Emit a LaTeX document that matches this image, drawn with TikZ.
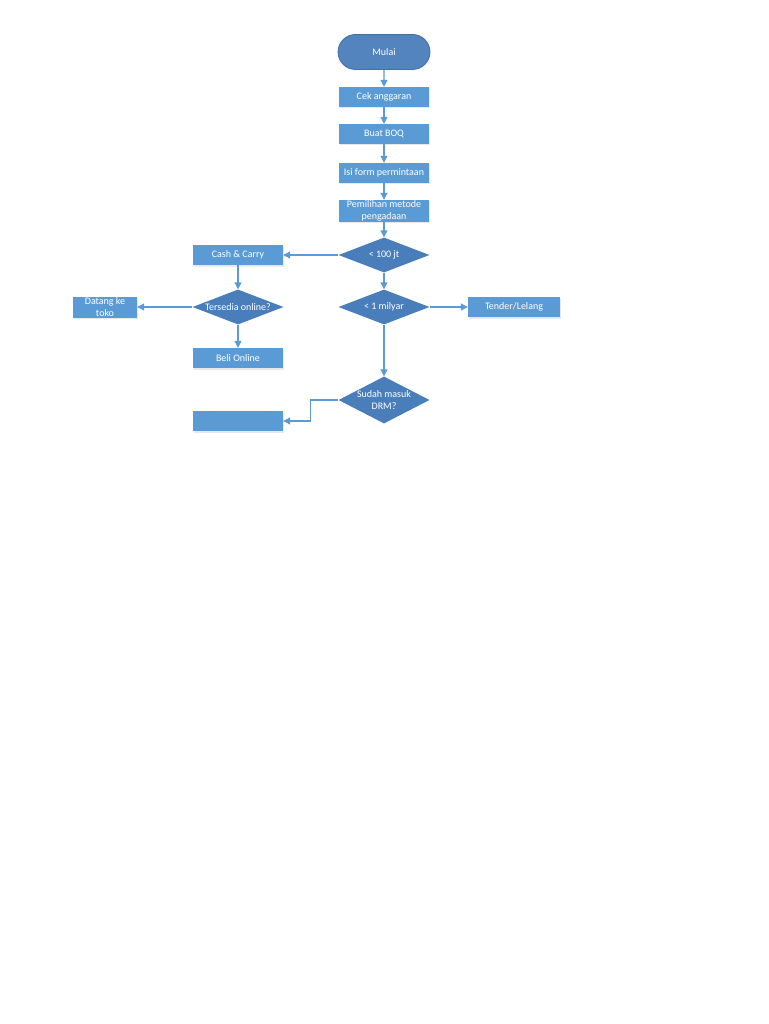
\documentclass[tikz,border=0pt]{standalone}
\usepackage{fontspec}
\setmainfont{Carlito}
\usepackage{tikz}
\usetikzlibrary{arrows.meta,shapes.geometric,shapes.misc,shadows}

\definecolor{boxblue}{HTML}{5B9BD5}
\definecolor{decblue}{HTML}{4A7EBB}
\definecolor{rimblue}{HTML}{41719C}

\begin{document}
\begin{tikzpicture}[x=1pt,y=-1pt,
    every node/.style={text=white,font=\fontsize{10}{11.5}\selectfont,inner sep=0pt,align=center},
    box/.style={rectangle,fill=boxblue,minimum width=90,minimum height=20,
                drop shadow={opacity=0.18,shadow xshift=1pt,shadow yshift=-1.5pt}},
    dec/.style={diamond,fill=decblue,aspect=2.5,minimum width=91,minimum height=35},
    term/.style={rounded rectangle,fill=decblue!95!white,draw=rimblue,line width=0.8pt,
                 minimum width=92,minimum height=35},
    flow/.style={draw=boxblue,line width=1.1pt,-{Triangle[length=7pt,width=7pt]}}
   ]
\useasboundingbox (0,0) rectangle (768,1024);

% main line
\node[term] (mulai) at (384,52) {Mulai};
\node[box] (cek) at (384,97) {Cek anggaran};
\node[box] (boq) at (384,134) {Buat BOQ};
\node[box] (isi) at (384,173) {Isi form permintaan};
\node[box,minimum height=22] (pilih) at (384,211) {Pemilihan metode\\pengadaan};
\node[dec] (kecil) at (384,255) {< 100 jt};
\node[dec] (milyar) at (384,307) {< 1 milyar};
\node[box,minimum width=92] (tender) at (514,307) {Tender/Lelang};
\node[dec,aspect=2,minimum height=47] (drm) at (384,400) {Sudah masuk\\DRM?};

% cash & carry branch
\node[box] (cash) at (238,255) {Cash \& Carry};
\node[dec] (online) at (238,307) {Tersedia online?};
\node[box,minimum width=64,minimum height=21] (toko) at (105,307) {Datang ke\\toko};
\node[box] (beli) at (238,358) {Beli Online};
\node[box] (kosong) at (238,421) {};

\draw[flow] (mulai) -- (cek);
\draw[flow] (cek) -- (boq);
\draw[flow] (boq) -- (isi);
\draw[flow] (isi) -- (pilih);
\draw[flow] (pilih) -- (kecil);
\draw[flow] (kecil.west) -- (cash.east);
\draw[flow] (kecil.south) -- (milyar.north);
\draw[flow] (milyar.east) -- (tender.west);
\draw[flow] (milyar.south) -- (drm.north);
\draw[flow] (cash) -- (online.north);
\draw[flow] (online.west) -- (toko.east);
\draw[flow] (online.south) -- (beli);
\draw[flow] (drm.west) -- ++(-28,0) |- (kosong.east);
\end{tikzpicture}
\end{document}
